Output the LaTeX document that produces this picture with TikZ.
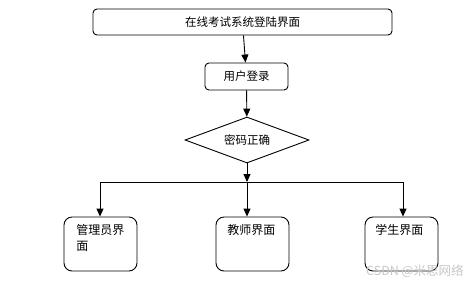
\documentclass[tikz,border=0pt]{standalone}
\usepackage{fontspec}
\newfontfamily\cjk{Noto Sans CJK SC}
\usetikzlibrary{arrows.meta,shapes.geometric}
\begin{document}
\begin{tikzpicture}[x=1pt,y=-1pt,
  font=\cjk\fontsize{11.5}{14}\selectfont,
  line width=0.9pt,
  box/.style={draw,rounded corners=4pt,inner sep=0pt,align=center},
  leaf/.style={draw,rounded corners=8pt,inner sep=0pt,minimum width=73pt,minimum height=54pt},
  arr/.style={-{Triangle[length=8pt,width=7pt]}}]
\useasboundingbox (0,0) rectangle (474,285);
\node[box,minimum width=299pt,minimum height=26pt] (top) at (242.5,22) {在线考试系统登陆界面};
\node[box,minimum width=83pt,minimum height=27pt] (login) at (246.5,76.5) {用户登录};
\node[draw,diamond,aspect=2.7,inner sep=0pt,minimum width=124pt,minimum height=46pt] (chk) at (247,140) {密码正确};
\coordinate (split) at (247,182);
\coordinate (l) at (100,182);
\coordinate (r) at (403,182);
\node[leaf] (admin) at (100.5,244) {};
\node[leaf] (teach) at (252.5,244) {};
\node[leaf] (stud) at (401.5,244) {};
\node[anchor=north west,align=left,text width=58pt,inner sep=0pt,font=\cjk\fontsize{12}{16}\selectfont] (t1) at (76,224) {管理员界\\面};
\node[anchor=north west,inner sep=0pt,font=\cjk\fontsize{12}{16}\selectfont] (t2) at (227,224) {教师界面};
\node[anchor=north west,inner sep=0pt,font=\cjk\fontsize{12}{16}\selectfont] (t3) at (375,224) {学生界面};
\draw[arr] (top) -- (login);
\draw[arr] (login) -- (chk);
\draw[arr] (chk) -- (split);
\draw (l) -- (r);
\draw[arr] (l) -- (l |- admin.north);
\draw[arr] (split) -- (split |- teach.north);
\draw[arr] (r) -- (r |- stud.north);
\node[anchor=east,inner sep=0pt,text=black!22,font=\cjk\fontsize{12.5}{14}\selectfont] (wm) at (464,271) {CSDN @米思网络};
\end{tikzpicture}
\end{document}
